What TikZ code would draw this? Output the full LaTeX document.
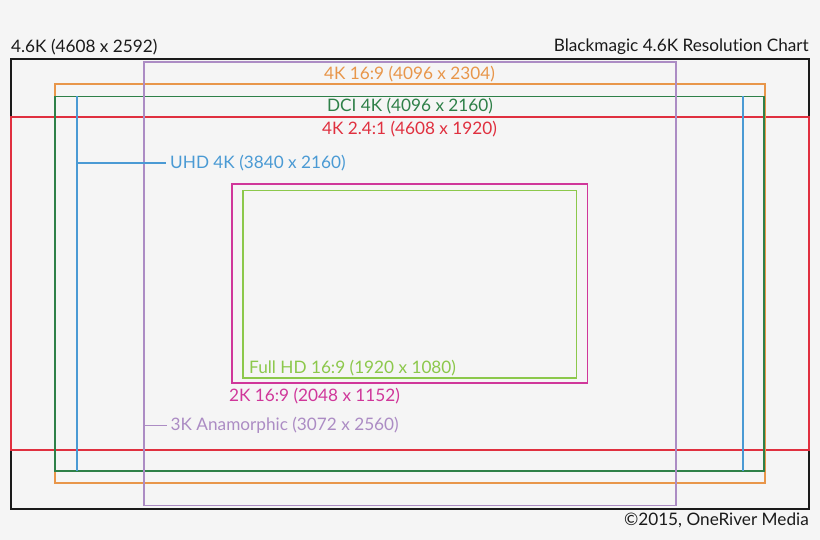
\documentclass[tikz,border=0pt]{standalone}
\usepackage{fontspec}
\setmainfont{Lato}[Ligatures={NoCommon}]
\begin{document}
\begin{tikzpicture}[x=1pt,y=-1pt,
  frame/.style={line width=1.5pt},
  lbl/.style={inner sep=0pt, font=\fontsize{17.2}{20}\selectfont},
  ]
\definecolor{bgc}{HTML}{F5F5F5}
\definecolor{cblack}{HTML}{1A1A1A}
\definecolor{cpurple}{HTML}{AC8CC4}
\definecolor{corange}{HTML}{E8964A}
\definecolor{cgreen}{HTML}{2E8048}
\definecolor{cred}{HTML}{E0303F}
\definecolor{cblue}{HTML}{4A9AD4}
\definecolor{cmag}{HTML}{D0379A}
\definecolor{clgreen}{HTML}{8CC84B}
\fill[bgc] (0,0) rectangle (820,540);
\useasboundingbox (0,0) rectangle (820,540);
% frames
\draw[frame,cblack] (11,59) rectangle (809,509);
\draw[frame,cred] (11,117) rectangle (809,450);
\draw[frame,corange] (55,84) rectangle (765,483);
\draw[frame,cgreen] (55,96.5) rectangle (764,471);
\draw[frame,cblue] (77,96.5) -- (77,471);
\draw[frame,cblue] (743,96.5) -- (743,471);
\draw[frame,cpurple] (144,62) rectangle (676,505.5);
\draw[frame,cmag] (232,184) rectangle (587.5,383);
\draw[frame,clgreen] (243,190.5) rectangle (576.5,378);
% labels
\node[lbl,anchor=west,text=cblack] (t1) at (11,47) {4.6K (4608 x 2592)};
\node[lbl,anchor=east,text=cblack] (t2) at (809,47) {Blackmagic 4.6K Resolution Chart};
\node[lbl,anchor=east,text=cblack] (t3) at (809,520) {©2015, OneRiver Media};
\node[lbl,text=corange] (l1) at (409.5,74) {4K 16:9 (4096 x 2304)};
\node[lbl,text=cgreen] (l2) at (410,106) {DCI 4K (4096 x 2160)};
\node[lbl,text=cred] (l3) at (409.5,129) {4K 2.4:1 (4608 x 1920)};
\node[lbl,anchor=west,text=cblue] (l4) at (170,163) {UHD 4K (3840 x 2160)};
\node[lbl,anchor=west,text=clgreen] (l5) at (249,368) {Full HD 16:9 (1920 x 1080)};
\node[lbl,anchor=west,text=cmag] (l6) at (229,396) {2K 16:9 (2048 x 1152)};
\node[lbl,anchor=west,text=cpurple] (l7) at (170.5,425.5) {3K Anamorphic (3072 x 2560)};
\coordinate (b0) at (77,163);
\coordinate (p0) at (144,425.5);
\draw[frame,cblue] (b0) -- ([xshift=-4pt]l4.west);
\draw[frame,cpurple] (p0) -- ([xshift=-4pt]l7.west);
\end{tikzpicture}
\end{document}
